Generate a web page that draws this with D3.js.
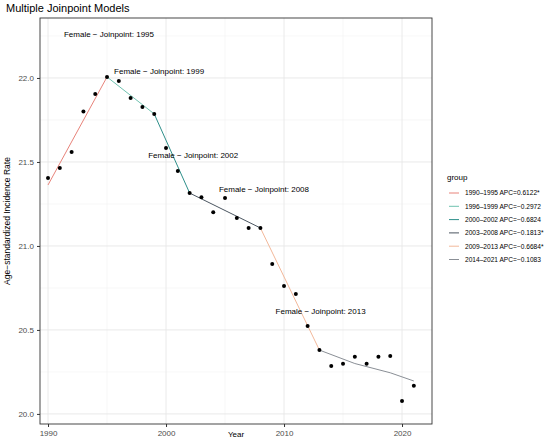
<!DOCTYPE html><html><head><meta charset="utf-8"><script src="https://cdn.jsdelivr.net/npm/d3@7"></script>
<style>body{margin:0;background:#fff}svg{font-family:"Liberation Sans",Arial,sans-serif}</style></head><body><svg id="c" width="554" height="441"></svg><script>
const years=d3.range(1990,2022);
const observed=[21.405,21.464,21.56,21.80,21.905,22.006,21.982,21.88,21.827,21.786,21.583,21.446,21.315,21.29,21.20,21.286,21.167,21.107,21.107,20.893,20.762,20.714,20.524,20.38,20.286,20.298,20.34,20.298,20.34,20.345,20.077,20.167];
const segments=[
 {label:"1990\u20131995 APC=0.6122*",years:[1990,1995],fit:[21.363,22.006],color:"#E8837A"},
 {label:"1996\u20131999 APC=\u22120.2972",years:[1995,1999],fit:[22.006,21.786],color:"#6FC2B0"},
 {label:"2000\u20132002 APC=\u22120.6824",years:[1999,2002],fit:[21.786,21.315],color:"#2E8F8A"},
 {label:"2003\u20132008 APC=\u22120.1813*",years:[2002,2008],fit:[21.315,21.107],color:"#4A5560"},
 {label:"2009\u20132013 APC=\u22120.6684*",years:[2008,2013],fit:[21.107,20.38],color:"#F2B89A"},
 {label:"2014\u20132021 APC=\u22120.1083",years:[2013,2016,2019,2021],fit:[20.38,20.30,20.245,20.196],color:"#8A8F96"}];
const joinLabels=[{t:"Female \u2212 Joinpoint: 1995",x:1991.35,y:22.26,a:"start"},{t:"Female \u2212 Joinpoint: 1999",x:1995.6,y:22.04,a:"start"},{t:"Female \u2212 Joinpoint: 2002",x:2002.3,y:21.54,a:"middle"},{t:"Female \u2212 Joinpoint: 2008",x:2008.3,y:21.335,a:"middle"},{t:"Female \u2212 Joinpoint: 2013",x:2013.1,y:20.61,a:"middle"}];
const xTicks=[1990,2000,2010,2020],yTicks=[20.0,20.5,21.0,21.5,22.0];
const svg=d3.select("#c");
const L=40,R=432,T=18,B=424;
const x=d3.scaleLinear().domain([1989.32,2022.54]).range([L,R]);
const y=d3.scaleLinear().domain([19.94,22.357]).range([B,T]);
const g=svg.append("g");
[1995,2005,2015].forEach(v=>g.append("line").attr("x1",x(v)).attr("x2",x(v)).attr("y1",T).attr("y2",B).attr("stroke","#f2f2f2").attr("stroke-width",0.6));
[20.25,20.75,21.25,21.75,22.25].forEach(v=>g.append("line").attr("x1",L).attr("x2",R).attr("y1",y(v)).attr("y2",y(v)).attr("stroke","#f2f2f2").attr("stroke-width",0.6));
xTicks.forEach(v=>g.append("line").attr("x1",x(v)).attr("x2",x(v)).attr("y1",T).attr("y2",B).attr("stroke","#e6e6e6").attr("stroke-width",0.9));
yTicks.forEach(v=>g.append("line").attr("x1",L).attr("x2",R).attr("y1",y(v)).attr("y2",y(v)).attr("stroke","#e6e6e6").attr("stroke-width",0.9));
g.append("rect").attr("x",L).attr("y",T).attr("width",R-L).attr("height",B-T).attr("fill","none").attr("stroke","#333").attr("stroke-width",0.9);
svg.append("g").attr("transform",`translate(0,${B})`).call(d3.axisBottom(x).tickValues(xTicks).tickFormat(d3.format("d")).tickSize(3)).call(a=>{a.select(".domain").remove();a.selectAll("text").attr("font-size",8).attr("fill","#4d4d4d");a.selectAll("line").attr("stroke","#333")});
svg.append("g").attr("transform",`translate(${L},0)`).call(d3.axisLeft(y).tickValues(yTicks).tickFormat(d3.format(".1f")).tickSize(3)).call(a=>{a.select(".domain").remove();a.selectAll("text").attr("font-size",8).attr("fill","#4d4d4d");a.selectAll("line").attr("stroke","#333")});
const line=d3.line().x(d=>x(d[0])).y(d=>y(d[1]));
segments.forEach(s=>svg.append("path").attr("d",line(s.years.map((yr,i)=>[yr,s.fit[i]]))).attr("fill","none").attr("stroke",s.color).attr("stroke-width",1));
svg.selectAll("circle").data(years).join("circle").attr("cx",d=>x(d)).attr("cy",(d,i)=>y(observed[i])).attr("r",2).attr("fill","#000");
joinLabels.forEach(j=>svg.append("text").attr("x",x(j.x)).attr("y",y(j.y)).attr("text-anchor",j.a).attr("font-size",8).attr("dy","0.35em").text(j.t));
svg.append("text").attr("x",6).attr("y",12).attr("font-size",11).text("Multiple Joinpoint Models");
svg.append("text").attr("x",(L+R)/2).attr("y",437).attr("text-anchor","middle").attr("font-size",8).text("Year");
svg.append("text").attr("transform",`translate(10,${(T+B)/2}) rotate(-90)`).attr("text-anchor","middle").attr("font-size",8.5).text("Age\u2212standardized Incidence Rate");
const lg=svg.append("g").attr("transform","translate(446,0)");
lg.append("text").attr("x",1).attr("y",180).attr("font-size",8).text("group");
segments.forEach((s,i)=>{const yy=193+i*13.3;lg.append("line").attr("x1",3).attr("x2",13).attr("y1",yy).attr("y2",yy).attr("stroke",s.color);lg.append("text").attr("x",19).attr("y",yy).attr("dy","0.35em").attr("font-size",6.6).text(s.label);});
</script></body></html>
